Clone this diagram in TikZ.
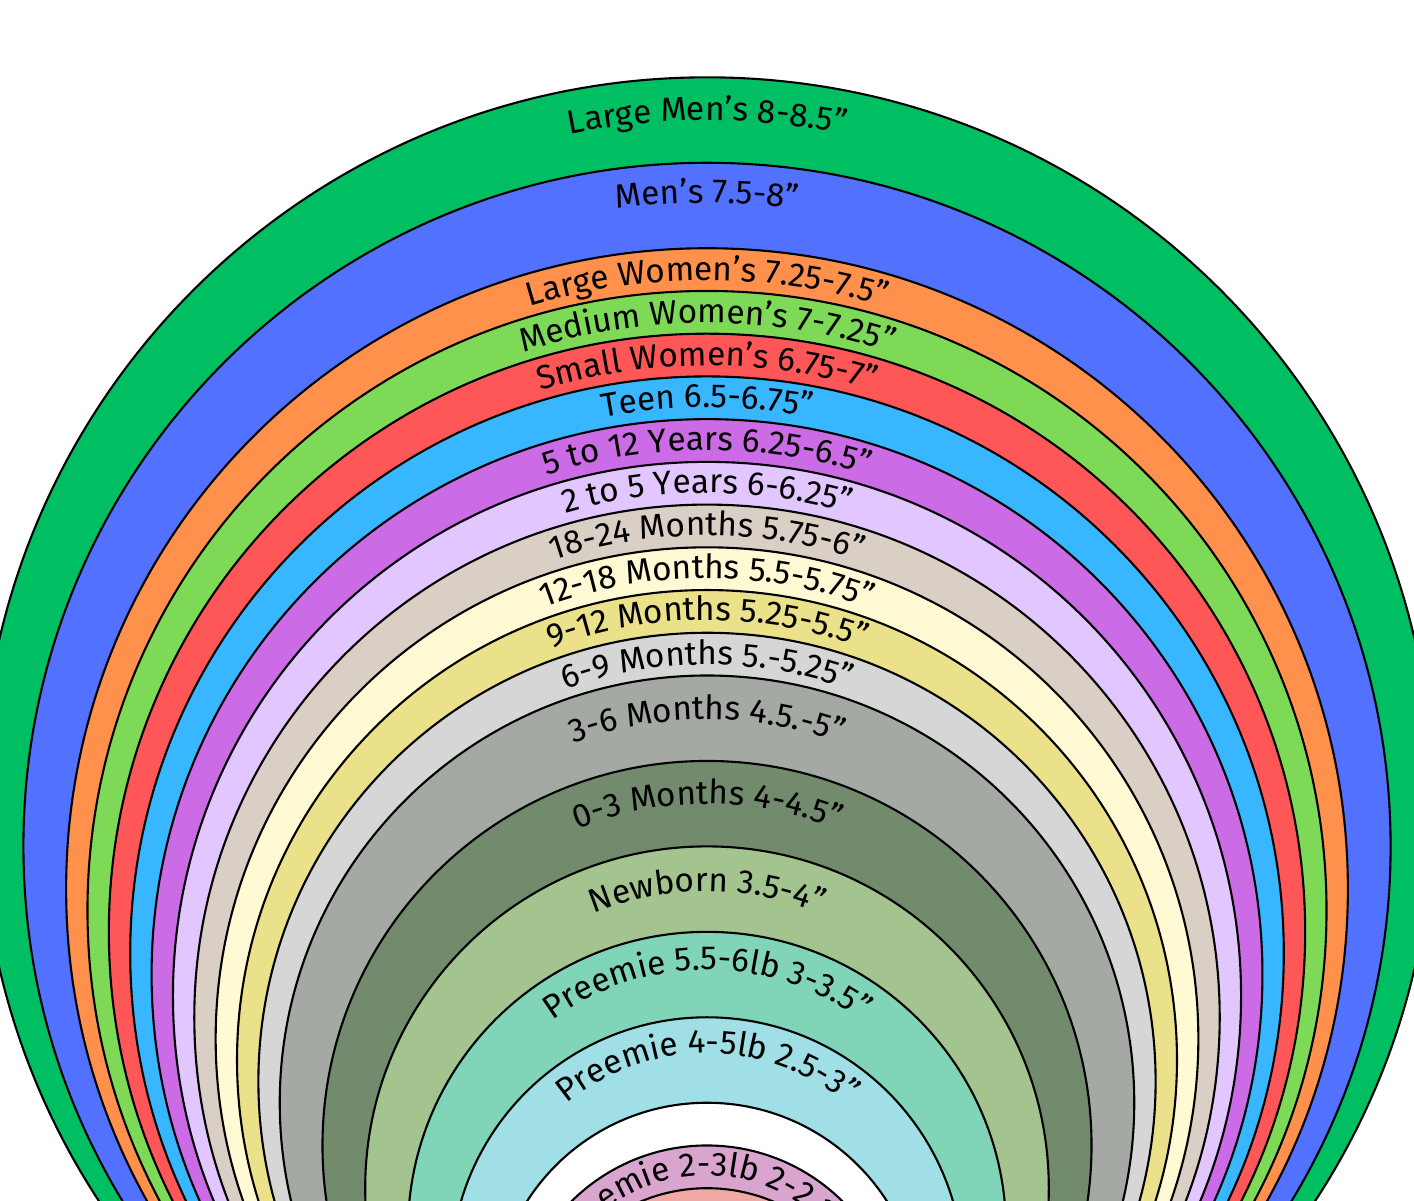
\documentclass[tikz,border=0pt]{standalone}
\usepackage{fontspec}
\setmainfont{Fira Sans}
\usepackage{tikz}
\usetikzlibrary{decorations.text}
\definecolor{ringA}{HTML}{00BF63}
\definecolor{ringB}{HTML}{5271FF}
\definecolor{ringC}{HTML}{FF914D}
\definecolor{ringD}{HTML}{7ED957}
\definecolor{ringE}{HTML}{FF5757}
\definecolor{ringF}{HTML}{38B6FF}
\definecolor{ringG}{HTML}{CB6CE6}
\definecolor{ringH}{HTML}{E2C6FF}
\definecolor{ringI}{HTML}{D9CFC5}
\definecolor{ringJ}{HTML}{FFFAD4}
\definecolor{ringK}{HTML}{EAE18A}
\definecolor{ringL}{HTML}{D6D6D6}
\definecolor{ringM}{HTML}{A5A9A3}
\definecolor{ringN}{HTML}{738B6D}
\definecolor{ringO}{HTML}{A4C48F}
\definecolor{ringP}{HTML}{80D4B8}
\definecolor{ringQ}{HTML}{A0DFE6}
\definecolor{ringR}{HTML}{FFFFFF}
\definecolor{ringS}{HTML}{D9A5CF}
\definecolor{ringT}{HTML}{EFA8A3}

\begin{document}
\fontsize{9.5}{11}\selectfont
\begin{tikzpicture}[
 ring/.style={draw=black, line width=0.6pt},
 sizelab/.style={decorate, decoration={text along path, text align=center, text/.expanded=#1}}]
\useasboundingbox (0,0) rectangle (14.14,12);
\clip (0,0) rectangle (14.14,12);
% rings, largest first, all touching at one point below the page
\foreach \s/\col in {8.5/ringA, 8/ringB, 7.5/ringC, 7.25/ringD, 7/ringE, 6.75/ringF,
  6.5/ringG, 6.25/ringH, 6/ringI, 5.75/ringJ, 5.5/ringK, 5.25/ringL, 5/ringM,
  4.5/ringN, 4/ringO, 3.5/ringP, 3/ringQ, 2.5/ringR, 2.25/ringS, 2/ringT} {
  \pgfmathsetmacro\r{0.8545*\s}
  \draw[ring, fill=\col] (7.07,-3.30+\r) circle (\r);
}
% labels along the top of each ring
\foreach \s/\off/\txt in {8.5/0.43/Large Men's 8-8.5", 8/0.40/Men's 7.5-8",
  7.5/0.32/Large Women's 7.25-7.5", 7.25/0.32/Medium Women's 7-7.25",
  7/0.32/Small Women's 6.75-7", 6.75/0.31/Teen 6.5-6.75",
  6.5/0.31/5 to 12 Years 6.25-6.5", 6.25/0.31/2 to 5 Years 6-6.25",
  6/0.31/18-24 Months 5.75-6", 5.75/0.31/12-18 Months 5.5-5.75",
  5.5/0.30/9-12 Months 5.25-5.5", 5.25/0.32/6-9 Months 5.-5.25",
  5/0.44/3-6 Months 4.5.-5", 4.5/0.43/0-3 Months 4-4.5",
  4/0.45/Newborn 3.5-4", 3.5/0.38/Preemie 5.5-6lb 3-3.5",
  3/0.36/Preemie 4-5lb 2.5-3", 2.25/0.30/Preemie 2-3lb 2-2.25"} {
  \pgfmathsetmacro\r{0.8545*\s}
  \pgfmathsetmacro\rt{\r-\off}
  \path[sizelab=\txt] (7.07-\rt,-3.30+\r) arc[start angle=180, end angle=0, radius=\rt];
}
\end{tikzpicture}
\end{document}
